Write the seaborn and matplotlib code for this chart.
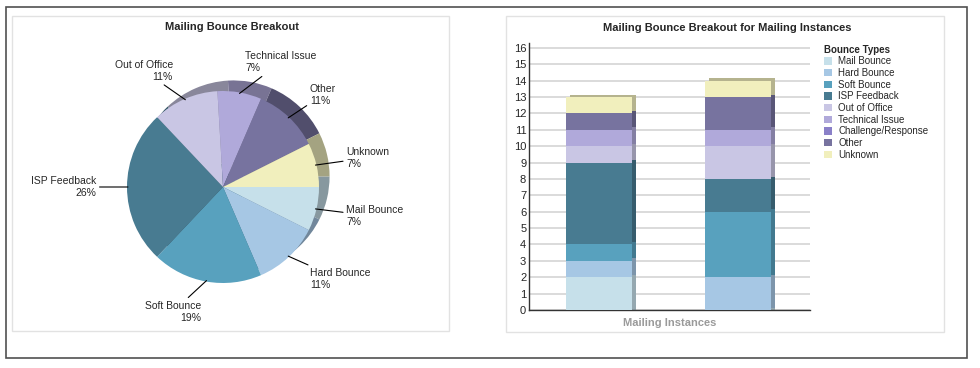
import numpy as np
import pandas as pd
import matplotlib
matplotlib.use("Agg")
import matplotlib.pyplot as plt
import seaborn as sns
from matplotlib.patches import Rectangle, Patch
from matplotlib.colors import to_rgb

# data
bounce_types = ['Mail Bounce', 'Hard Bounce', 'Soft Bounce', 'ISP Feedback', 'Out of Office',
                'Technical Issue', 'Challenge/Response', 'Other', 'Unknown']
instances = ['Instance 1', 'Instance 2']
instance_1 = [2, 1, 1, 5, 1, 1, 0, 1, 1]
instance_2 = [0, 2, 4, 2, 2, 1, 0, 2, 1]
type_colors = ['#c6e0ea', '#a6c7e4', '#58a1be', '#487b91', '#c9c6e4',
               '#b0a9da', '#8a80c8', '#77739f', '#f1efbd']
y_ticks = list(range(0, 17))


def darker(c, f=0.68):
    r, g, b = to_rgb(c)
    return (r * f, g * f, b * f)


sns.set_theme(style="white")
plt.rcParams['font.family'] = ['Liberation Sans', 'DejaVu Sans']

df = pd.DataFrame({
    'instance': np.repeat(instances, len(bounce_types)),
    'type': bounce_types * 2,
    'count': instance_1 + instance_2,
})
df['cum'] = df.groupby('instance')['count'].cumsum()

fig = plt.figure(figsize=(9.8, 3.68), dpi=100)
W, H = 980, 368


def px_rect(x0, y0, x1, y1):
    return (x0 / W, 1 - y1 / H), (x1 - x0) / W, (y1 - y0) / H


# frames
xy, w, h = px_rect(6, 7, 967, 358)
fig.add_artist(Rectangle(xy, w, h, transform=fig.transFigure, fill=False, ec='#505050', lw=1.2))
for box in [(12, 16, 449, 331), (506, 16, 944, 332)]:
    xy, w, h = px_rect(*box)
    fig.add_artist(Rectangle(xy, w, h, transform=fig.transFigure, fill=False, ec='#e2e2e2', lw=1))

# ---------- pie ----------
totals = np.array(instance_1) + np.array(instance_2)
keep = totals > 0
pie_vals = totals[keep]
pie_labels = [t for t, k in zip(bounce_types, keep) if k]
pie_colors = [c for c, k in zip(type_colors, keep) if k]

ax1 = fig.add_axes([(223 - 153.6) / W, (181 - 153.6) / H, 307.2 / W, 307.2 / H])
ax1.pie(pie_vals, colors=[darker(c) for c in pie_colors], startangle=0, counterclock=False,
        center=(0.11, 0.11), wedgeprops=dict(linewidth=0))
ax1.pie(pie_vals, colors=pie_colors, startangle=0, counterclock=False,
        wedgeprops=dict(linewidth=0))
ax1.set_xlim(-1.6, 1.6)
ax1.set_ylim(-1.6, 1.6)
ax1.set_aspect('equal')
ax1.axis('off')

ends = np.cumsum(pie_vals)
starts = ends - pie_vals
for lab, s, e, v in zip(pie_labels, starts, ends, pie_vals):
    mid = np.deg2rad(-(s + e) / 2 / pie_vals.sum() * 360)
    pct = round(v / pie_vals.sum() * 100)
    ex, ey = np.cos(mid), np.sin(mid)
    tx, ty = 1.32 * ex, 1.32 * ey
    ha = 'left' if ex > 0.05 else 'right'
    ax1.annotate(f"{lab}\n{pct}%", xy=(0.99 * ex, 0.99 * ey), xytext=(tx, ty),
                 ha=ha, va='center', multialignment=ha, fontsize=7.5, linespacing=1.25,
                 arrowprops=dict(arrowstyle='-', color='black', lw=0.8, shrinkA=0, shrinkB=0))
fig.text(232 / W, 1 - 27 / H, 'Mailing Bounce Breakout', ha='center', va='center',
         fontsize=8, fontweight='bold')

# ---------- stacked bars ----------
ax2 = fig.add_axes([529 / W, 58 / H, 281 / W, 267 / H])
bar_w = 0.475
dx, dy = 0.03, 0.15
xpos = np.arange(len(instances))
# side/top faces first
for t, c in reversed(list(zip(bounce_types, type_colors))):
    sub = df[df['type'] == t].set_index('instance').loc[instances]
    ax2.bar(xpos + dx, sub['cum'].values + dy, width=bar_w, color=darker(c, 0.75), linewidth=0, zorder=2)
# front faces
for t, c in reversed(list(zip(bounce_types, type_colors))):
    sns.barplot(data=df[df['type'] == t], x='instance', y='cum', order=instances, color=c,
                width=bar_w, saturation=1, errorbar=None, linewidth=0, ax=ax2, zorder=3)

ax2.set_xlim(-0.5, 1.52)
ax2.set_ylim(0, 16.3)
ax2.set_yticks(y_ticks)
ax2.tick_params(axis='y', labelsize=8, pad=2, length=0)
ax2.set_xticks([])
ax2.set_ylabel('')
ax2.set_xlabel('Mailing Instances', fontsize=8, fontweight='bold', color='#9a9a9a', labelpad=6)
for yv in y_ticks:
    ax2.axhline(yv, color='#d4d4d4', lw=1.2, zorder=0)
for sp in ['top', 'right']:
    ax2.spines[sp].set_visible(False)
ax2.spines['left'].set_color('#333333')
ax2.spines['bottom'].set_color('#333333')
ax2.spines['left'].set_linewidth(1)
ax2.spines['bottom'].set_linewidth(1)

fig.text(727 / W, 1 - 28 / H, 'Mailing Bounce Breakout for Mailing Instances', ha='center',
         va='center', fontsize=8, fontweight='bold')

handles = [Patch(facecolor=c, edgecolor='none') for c in type_colors]
leg = fig.legend(handles, bounce_types, title='Bounce Types', loc='upper left',
                 bbox_to_anchor=(817 / W, 1 - 38 / H), frameon=False, fontsize=7,
                 title_fontproperties={'weight': 'bold', 'size': 7}, alignment='left',
                 labelspacing=0.17, handlelength=0.8, handleheight=0.8, handletextpad=0.7,
                 borderpad=0.2)

fig.savefig('out.png', dpi=100, facecolor='white')
